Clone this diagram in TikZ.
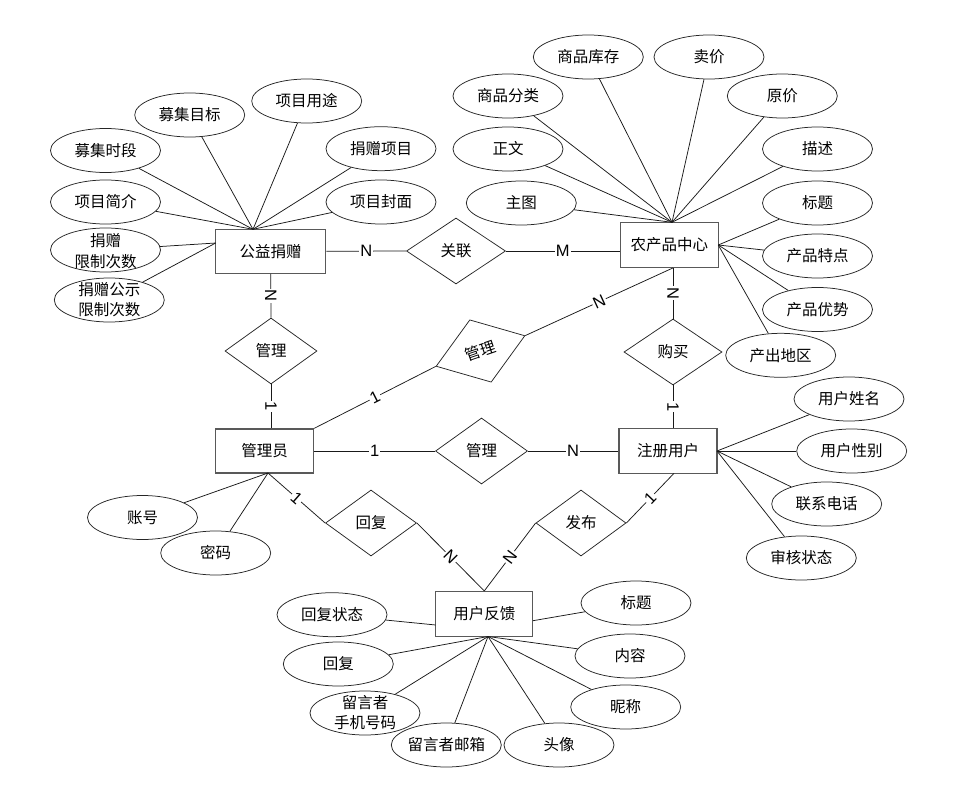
\documentclass[tikz,border=0pt]{standalone}
\usepackage{fontspec}
\newfontfamily\cjk{Noto Sans CJK SC}
\newfontfamily\lab{Liberation Sans}
\usetikzlibrary{shapes.geometric,calc}
\begin{document}
\begin{tikzpicture}[x=1pt,y=-1pt,
  ent/.style={draw=black!65, line width=1.2pt, rectangle, minimum width=98pt, minimum height=44pt, inner sep=0pt, font=\cjk\fontsize{15.5}{20.5}\selectfont},
  rel/.style={draw=black!85, line width=0.75pt, diamond, minimum width=92pt, minimum height=66pt, inner sep=0pt, font=\cjk\fontsize{15.5}{20.5}\selectfont},
  attr/.style={draw=black!85, line width=0.75pt, ellipse, minimum width=110pt, minimum height=44pt, inner sep=0pt, font=\cjk\fontsize{15.5}{20.5}\selectfont},
  txt/.style={inner sep=0pt, align=center, font=\cjk\fontsize{15.5}{20.7}\selectfont},
  conn/.style={draw=black!90, line width=0.75pt},
  card/.style={fill=white, inner sep=1.2pt, font=\lab\fontsize{16.5}{18}\selectfont}
]
\useasboundingbox (0,0) rectangle (964,800);

% entities
\node[ent, minimum width=110pt] (e1) at (270.7,251.3) {公益捐赠};
\node[ent, minimum height=45pt] (e2) at (669.3,244.8) {农产品中心};
\node[ent] (e3) at (264.5,451) {管理员};
\node[ent, minimum height=45pt] (e4) at (668,451) {注册用户};
\node[ent, minimum width=97pt, minimum height=45pt] (e5) at (484.3,614) {用户反馈};

% relationships
\node[rel, minimum width=99pt] (r1) at (456,251) {关联};
\node[rel] (r2) at (271,351) {管理};
\node[rel, minimum width=94pt, rotate=19] (r3) at (480.5,351) {管理};
\node[rel] (r4) at (481.5,451) {管理};
\node[rel, minimum width=98pt] (r5) at (673,352) {购买};
\node[rel, minimum width=91pt] (r6) at (371,523) {回复};
\node[rel, minimum width=90pt] (r7) at (581,523) {发布};

% converge points
\coordinate (P1) at (253,229.3);
\coordinate (P2) at (215.7,243);
\coordinate (P3) at (672,222.3);
\coordinate (P4) at (718.3,245);
\coordinate (P5) at (268,473);
\coordinate (P6) at (717,451);
\coordinate (P7) at (488,636.5);
\coordinate (Q1) at (435.7,625);
\coordinate (Q2) at (533,620.7);
\coordinate (Q3) at (674,473.3);

% relationship connectors
\draw[conn] (e1.east) -- node[card]{N} (r1.west);
\draw[conn] (r1.east) -- node[card]{M} (r1.east -| e2.west);
\draw[conn] (e1.south) -- node[card, rotate=-90]{N} (r2.north);
\draw[conn] (r2.south) -- node[card, rotate=-90]{1} (r2.south |- e3.north);
\draw[conn] (e3.north east) -- node[card, sloped]{1} (r3.west);
\draw[conn] (r3.east) -- node[card, sloped]{N} (r5.north |- e2.south);
\draw[conn] (e3.east) -- node[card]{1} (r4.west);
\draw[conn] (r4.east) -- node[card]{N} (e4.west);
\draw[conn] (r5.north |- e2.south) -- node[card, rotate=-90]{N} (r5.north);
\draw[conn] (r5.south) -- node[card, rotate=-90]{1} (r5.south |- e4.north);
\draw[conn] (P5) -- node[card, sloped]{1} (r6.west);
\draw[conn] (r6.east) -- node[card, sloped]{N} (e5.north);
\draw[conn] (Q3) -- node[card, sloped]{1} (r7.east);
\draw[conn] (r7.west) -- node[card, sloped]{N} (e5.north);

% 公益捐赠 attributes
\node[attr] (a1) at (105.5,150.5) {募集时段};
\node[attr] (a2) at (189.7,115) {募集目标};
\node[attr] (a3) at (306.7,101) {项目用途};
\node[attr] (a4) at (381,148.7) {捐赠项目};
\node[attr] (a5) at (381,202) {项目封面};
\node[attr] (a6) at (105.5,202) {项目简介};
\node[attr] (a7) at (105.5,250) {};
\node[txt] (a7t) at (105.5,251) {捐赠\\限制次数};
\node[attr] (a8) at (109.3,300) {};
\node[txt] (a8t) at (109.3,299.5) {捐赠公示\\限制次数};
\foreach \a in {a1,a2,a3,a4,a5,a6} \draw[conn] (\a) -- (P1);
\foreach \a in {a7,a8} \draw[conn] (\a) -- (P2);

% 农产品中心 attributes
\node[attr] (b1) at (588.3,57) {商品库存};
\node[attr] (b2) at (709,57) {卖价};
\node[attr] (b3) at (508,96) {商品分类};
\node[attr] (b4) at (782.3,96) {原价};
\node[attr] (b5) at (508,149) {正文};
\node[attr] (b6) at (817.5,149) {描述};
\node[attr] (b7) at (521.3,203) {主图};
\node[attr] (b8) at (817.5,203) {标题};
\node[attr] (b9) at (817.5,256) {产品特点};
\node[attr] (b10) at (817.5,309.5) {产品优势};
\node[attr] (b11) at (780.7,355.3) {产出地区};
\foreach \a in {b1,b2,b3,b4,b5,b6,b7} \draw[conn] (\a) -- (P3);
\foreach \a in {b8,b9,b10,b11} \draw[conn] (\a) -- (P4);

% 管理员 attributes
\node[attr] (c1) at (142.5,517.5) {账号};
\node[attr] (c2) at (215.7,553) {密码};
\foreach \a in {c1,c2} \draw[conn] (\a) -- (P5);

% 注册用户 attributes
\node[attr] (d1) at (849,399) {用户姓名};
\node[attr] (d2) at (851.7,451) {用户性别};
\node[attr] (d3) at (826.7,504) {联系电话};
\node[attr] (d4) at (801.3,558) {审核状态};
\foreach \a in {d1,d2,d3,d4} \draw[conn] (\a) -- (P6);

% 用户反馈 attributes
\node[attr] (f1) at (332,614.7) {回复状态};
\node[attr] (f2) at (338.3,664) {回复};
\node[attr] (f3) at (365,713) {};
\node[txt] (f3t) at (365,712.5) {留言者\\手机号码};
\node[attr] (f4) at (446.3,745) {留言者邮箱};
\node[attr] (f5) at (559,745) {头像};
\node[attr] (f6) at (625.7,707) {昵称};
\node[attr] (f7) at (630,656) {内容};
\node[attr] (f8) at (636,603) {标题};
\draw[conn] (f1) -- (Q1);
\draw[conn] (f8) -- (Q2);
\foreach \a in {f2,f3,f4,f5,f6,f7} \draw[conn] (\a) -- (P7);
\end{tikzpicture}
\end{document}
